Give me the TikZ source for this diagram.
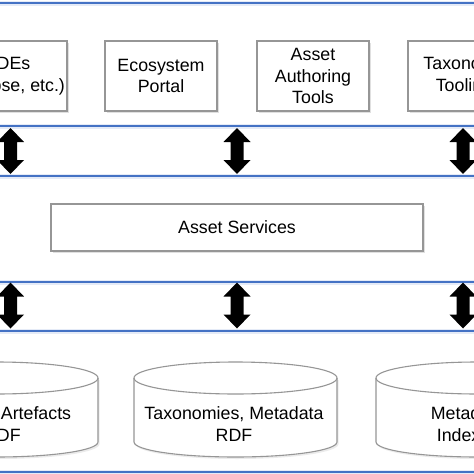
\documentclass[tikz,border=0pt]{standalone}
\usepackage{fontspec}
\setmainfont{Liberation Sans}
\usetikzlibrary{shadows}
\definecolor{lineblue}{RGB}{68,114,196}
\definecolor{boxgray}{RGB}{150,150,150}
\begin{document}
\begin{tikzpicture}[x=1pt,y=-1pt,
  every node/.style={font=\fontsize{17.8}{21.7}\selectfont, text=black},
  boxshadow/.style={drop shadow={shadow xshift=1.5pt, shadow yshift=-1.5pt, opacity=0.12, fill=black}},
  toolbox/.style={draw=boxgray, line width=1.1pt, fill=white, minimum width=112pt, minimum height=70pt, align=center, inner sep=0pt, boxshadow},
  servicebox/.style={draw=boxgray, line width=1.1pt, fill=white, minimum width=372pt, minimum height=47pt, align=center, inner sep=0pt, boxshadow},
  sepglow/.style={draw=lineblue!14, line width=5pt},
  sepline/.style={draw=lineblue, line width=2pt},
  cyl/.style={draw=boxgray, line width=1.1pt},
  cyltext/.style={align=center, inner sep=0pt},
  dblarrow/.pic={\fill[black] (0,-23) -- (13.5,-9) -- (6.5,-9) -- (6.5,9) -- (13.5,9) -- (0,23) -- (-13.5,9) -- (-6.5,9) -- (-6.5,-9) -- (-13.5,-9) -- cycle;}
]
\useasboundingbox (0,0) rectangle (474,474);
\fill[white] (0,0) rectangle (474,474);
\clip (0,0) rectangle (474,474);

% separator lines
\foreach \yy in {3,126,176,282,331,472} {
  \draw[sepglow] (0,\yy) -- (474,\yy);
}
\foreach \yy in {3,126,176,282,331,472} {
  \draw[sepline] (0,\yy) -- (474,\yy);
}

% top row tools
\node[toolbox] (ides) at (11,76) {IDEs\\(Eclipse, etc.)};
\node[toolbox] (portal) at (161,76) {Ecosystem\\Portal};
\node[toolbox] (authoring) at (313,76) {Asset\\Authoring\\Tools};
\node[toolbox] (taxtools) at (464,76) {Taxonomy\\Tooling};

% arrows between layers
\foreach \xx in {10.5,237,463} {
  \pic at (\xx,151) {dblarrow};
  \pic at (\xx,305.5) {dblarrow};
}

% services
\node[servicebox] (services) at (237,227.5) {Asset Services};

% cylinders
\foreach \cx/\nm in {-3.5/c1,235.5/c2,477.5/c3} {
  \fill[black, opacity=0.08] (\cx-100,380) -- (\cx-100,444)
     .. controls (\cx-100,452.3) and (\cx-55.1,459) .. (\cx+1.5,459)
     .. controls (\cx+58.1,459) and (\cx+103,452.3) .. (\cx+103,444) -- (\cx+103,380) -- cycle;
  \fill[white] (\cx-101.5,378) -- (\cx-101.5,442)
     .. controls (\cx-101.5,450.3) and (\cx-56.1,457) .. (\cx,457)
     .. controls (\cx+56.1,457) and (\cx+101.5,450.3) .. (\cx+101.5,442) -- (\cx+101.5,378) -- cycle;
  \fill[white] (\cx,378) ellipse [x radius=101.5, y radius=16];
  \draw[cyl] (\cx,378) ellipse [x radius=101.5, y radius=16];
  \draw[cyl] (\cx-101.5,378) -- (\cx-101.5,442)
     .. controls (\cx-101.5,450.3) and (\cx-56.1,457) .. (\cx,457)
     .. controls (\cx+56.1,457) and (\cx+101.5,450.3) .. (\cx+101.5,442) -- (\cx+101.5,378);
}
\node[cyltext] (artefacts) at (2.4,424) {Content Artefacts\\RDF};
\node[cyltext] (taxmeta) at (234,424) {Taxonomies, Metadata\\RDF};
\node[cyltext] (index) at (468,424) {Metadata\\Indexes};
\end{tikzpicture}
\end{document}
